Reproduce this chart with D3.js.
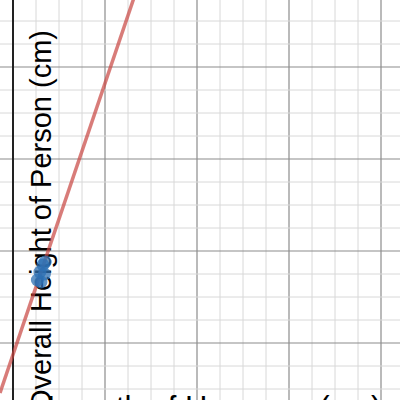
<!DOCTYPE html>
<html><head><meta charset="utf-8">
<script src="https://cdn.jsdelivr.net/npm/d3@7"></script>
<style>body{margin:0;background:#fff}svg{display:block}</style>
</head><body>
<svg id="c" width="400" height="400"></svg>
<script>
// humerus length (cm) vs overall height (cm)
const humerus = [26.5, 29.3, 32.6, 34.8, 34.2, 30.4];
const height = [168.5, 177.2, 184.8, 188, 175, 166.3];
const fitSlope = 2.95, fitIntercept = 87.3;

const svg = d3.select("#c");
const x = d3.scaleLinear().domain([0, 100]).range([13, 105]);
const y = d3.scaleLinear().domain([0, 100]).range([435, 343]);
const xMin = x.invert(0), xMax = x.invert(400);

const minorX = d3.range(-25, 450, 25), minorY = d3.range(0, 500, 25);
svg.append("g").selectAll("line").data(minorX).join("line")
  .attr("x1", d => x(d)).attr("x2", d => x(d)).attr("y1", 0).attr("y2", 400)
  .attr("stroke", d => d % 100 === 0 ? "#8c8c8c" : "#d8d8d8").attr("stroke-width", d => d % 100 === 0 ? 1.2 : 1);
svg.append("g").selectAll("line").data(minorY).join("line")
  .attr("y1", d => y(d)).attr("y2", d => y(d)).attr("x1", 0).attr("x2", 400)
  .attr("stroke", d => d % 100 === 0 ? "#8c8c8c" : "#d8d8d8").attr("stroke-width", d => d % 100 === 0 ? 1.2 : 1);
svg.append("line").attr("x1", x(0)).attr("x2", x(0)).attr("y1", 0).attr("y2", 400)
  .attr("stroke", "#222").attr("stroke-width", 2);

svg.append("text").attr("transform", "translate(51,30) rotate(-90)")
  .attr("text-anchor", "end").attr("font-family", "Liberation Sans, Arial")
  .attr("font-size", 29).text("Overall Height of Person (cm)");
svg.append("text").attr("x", 47).attr("y", 418)
  .attr("font-family", "Liberation Sans, Arial")
  .attr("font-size", 31).text("Length of Humerus (cm)");

svg.append("line")
  .attr("x1", x(xMin)).attr("y1", y(fitSlope * xMin + fitIntercept))
  .attr("x2", x(xMax)).attr("y2", y(fitSlope * xMax + fitIntercept))
  .attr("stroke", "#c74440").attr("stroke-opacity", 0.7).attr("stroke-width", 3.5);

svg.append("g").selectAll("circle").data(humerus).join("circle")
  .attr("cx", d => x(d)).attr("cy", (d, i) => y(height[i])).attr("r", 6.5)
  .attr("fill", "#2d70b3").attr("fill-opacity", 0.75);
</script>
</body></html>
